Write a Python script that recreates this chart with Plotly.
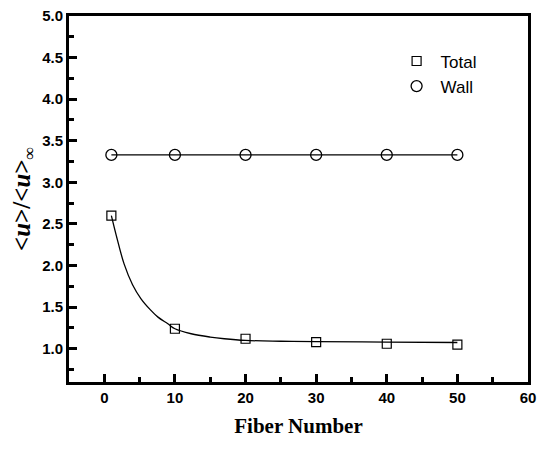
import plotly.graph_objects as go

# measured points
fiber_number = [1, 10, 20, 30, 40, 50]
total_ratio = [2.60, 1.24, 1.12, 1.08, 1.06, 1.05]
wall_ratio = [3.33, 3.33, 3.33, 3.33, 3.33, 3.33]

# fitted decay curve through Total
fit_x = [1, 1.7, 2.8, 4, 5.2, 6.5, 7.6, 9, 10, 12.3, 15, 17, 20, 25, 30, 40, 50]
fit_y = [2.60, 2.36, 2.02, 1.77, 1.60, 1.47, 1.38, 1.30, 1.24, 1.18, 1.14,
         1.12, 1.10, 1.09, 1.085, 1.08, 1.075]

fig = go.Figure()

fig.add_trace(go.Scatter(x=fit_x, y=fit_y, mode="lines", line_shape="spline",
                         line=dict(color="black", width=1.3),
                         showlegend=False, hoverinfo="skip"))
fig.add_trace(go.Scatter(x=fiber_number, y=wall_ratio, mode="lines",
                         line=dict(color="black", width=1.3),
                         showlegend=False, hoverinfo="skip"))
fig.add_trace(go.Scatter(x=fiber_number, y=total_ratio, mode="markers",
                         name="Total",
                         marker=dict(symbol="square-open", size=9, color="black",
                                     line=dict(width=1.2))))
fig.add_trace(go.Scatter(x=fiber_number, y=wall_ratio, mode="markers",
                         name="Wall",
                         marker=dict(symbol="circle-open", size=11, color="black",
                                     line=dict(width=1.3))))

tick_font = dict(family="Liberation Sans", size=15, color="black", weight="bold")

# page body adds an 8px offset, so the figure is made 8px smaller on each side
fig.update_layout(
    width=542,
    height=441,
    margin=dict(l=61, r=22, t=8, b=67),
    plot_bgcolor="white",
    paper_bgcolor="white",
    legend=dict(x=0.705, y=0.925, xanchor="left", yanchor="top",
                itemwidth=38,
                font=dict(family="Liberation Sans", size=17, color="black"),
                bgcolor="rgba(0,0,0,0)", tracegroupgap=0),
    xaxis=dict(
        range=[-5, 60], automargin=False,
        tickmode="linear", tick0=0, dtick=10,
        ticks="inside", ticklen=8, tickwidth=3, tickcolor="black",
        minor=dict(ticks="inside", ticklen=5, tickwidth=3, dtick=5, tick0=0,
                   tickcolor="black"),
        showline=True, linewidth=3, linecolor="black", mirror=True,
        showgrid=False, zeroline=False,
        tickfont=tick_font, ticklabeloverflow="allow",
        title=dict(text="Fiber Number", standoff=14,
                   font=dict(family="Liberation Serif", size=21, color="black",
                             weight="bold")),
    ),
    yaxis=dict(
        range=[0.6, 5.0], automargin=False,
        tickmode="linear", tick0=1.0, dtick=0.5, tickformat=".1f",
        ticks="inside", ticklen=8, tickwidth=3, tickcolor="black",
        minor=dict(ticks="inside", ticklen=5, tickwidth=3, dtick=0.25,
                   tick0=0.75, tickcolor="black"),
        showline=True, linewidth=3, linecolor="black", mirror=True,
        showgrid=False, zeroline=False,
        tickfont=tick_font, ticklabeloverflow="allow",
        title=dict(text="&lt;<i>u</i>&gt;/&lt;<i>u</i>&gt;<sub>∞</sub>",
                   standoff=12,
                   font=dict(family="Liberation Serif", size=25, color="black",
                             weight="bold")),
    ),
)

fig.write_html("out.html")
